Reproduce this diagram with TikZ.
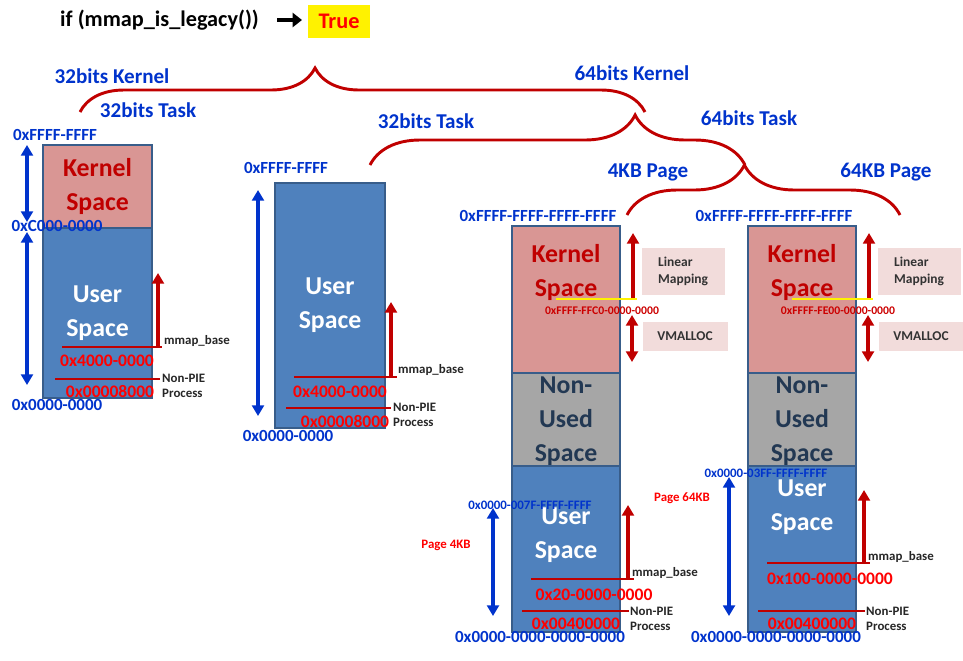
\documentclass[tikz,border=0pt]{standalone}
\usepackage{amsmath}
\usepackage{fontspec}
\setmainfont{Carlito}
\usetikzlibrary{decorations.pathreplacing,arrows.meta}
\definecolor{ublue}{HTML}{4F81BD}
\definecolor{ubord}{HTML}{385D8A}
\definecolor{kpink}{HTML}{D99694}
\definecolor{ngray}{HTML}{A6A6A6}
\definecolor{lpink}{HTML}{F2DCDB}
\definecolor{dred}{HTML}{C00000}
\definecolor{tblue}{HTML}{0033CC}
\tikzset{
kspace/.style = {draw=ubord, line width=1.5pt, fill=kpink, text=dred, align=center, font=\bfseries\fontsize{22}{29}\selectfont},
uspace/.style = {draw=ubord, line width=1.5pt, fill=ublue, text=white, align=center, font=\bfseries\fontsize{22}{29}\selectfont},
nspace/.style = {draw=ubord, line width=1.5pt, fill=ngray, text=ubord!60!black, align=center, font=\bfseries\fontsize{22}{29}\selectfont},
btext/.style = {align=center, font=\bfseries\fontsize{22}{29}\selectfont},
addr/.style = {text=tblue, font=\bfseries\fontsize{14.5}{17}\selectfont, inner sep=0pt},
saddr/.style = {text=tblue, font=\bfseries\fontsize{11}{13}\selectfont, inner sep=0pt},
raddr/.style = {text=red, font=\bfseries\fontsize{15}{17}\selectfont, inner sep=0pt},
kaddr/.style = {text=red!80!black, font=\bfseries\fontsize{10}{12}\selectfont, inner sep=0pt},
note/.style = {text=black!85, font=\bfseries\fontsize{11}{13}\selectfont, inner sep=0pt, align=left},
tag/.style = {fill=lpink, text=black!80, font=\bfseries\fontsize{11.5}{15}\selectfont, align=left},
head/.style = {text=tblue, font=\bfseries\fontsize{18}{21}\selectfont},
pg/.style = {text=red, font=\bfseries\fontsize{11}{13}\selectfont},
brc/.style = {draw=dred, line width=2.5pt, decorate},
barr/.style = {draw=tblue, line width=3pt, {Triangle[length=9pt,width=10pt]}-{Triangle[length=9pt,width=10pt]}},
rarr/.style = {draw=dred, line width=3pt, -{Triangle[length=9pt,width=10pt]}},
rdarr/.style = {draw=dred, line width=3pt, {Triangle[length=9pt,width=10pt]}-{Triangle[length=9pt,width=10pt]}},
rline/.style = {draw=dred, line width=2.5pt},
yline/.style = {draw=yellow, line width=2pt}
}
\begin{document}
\begin{tikzpicture}[x=0.03cm,y=-0.03cm]
\useasboundingbox (0,0) rectangle (963,660);
% title
\node[anchor=west, font=\bfseries\fontsize{19}{22}\selectfont, inner sep=0pt] (title) at (60,20) {if (mmap\_is\_legacy())};
\coordinate (ar1) at (277,20); \coordinate (ar2) at (302,20);
\draw[line width=3.5pt, -{Triangle[length=8pt,width=12pt]}] (ar1) -- (ar2);
\node[fill=yellow, text=red, font=\bfseries\fontsize{19}{22}\selectfont, minimum width=62*0.03cm, minimum height=33*0.03cm] (true) at (339,21) {True};
% braces
\draw[brc, decoration={brace, amplitude=44*0.03cm, aspect=0.416}] (80,112) -- (645,112);
\draw[brc, decoration={brace, amplitude=50*0.03cm, aspect=0.707}] (370,165) -- (745,165);
\draw[brc, decoration={brace, amplitude=50*0.03cm, aspect=0.43}] (627,215) -- (900,215);
\node[head] (k32) at (112,76) {32bits Kernel};
\node[head] (k64) at (632,73) {64bits Kernel};
\node[head] (t32a) at (148,110) {32bits Task};
\node[head] (t32b) at (426,121) {32bits Task};
\node[head] (t64) at (749,118) {64bits Task};
\node[head] (p4k) at (648,172) {4KB Page};
\node[head] (p64k) at (886,172) {64KB Page};

% box A : 32bits kernel, 32bits task
\node[kspace, minimum width=109*0.03cm, minimum height=83*0.03cm] (kA) at (97.5,186.5) {Kernel\\Space};
\node[uspace, minimum width=109*0.03cm, minimum height=170*0.03cm] (uA) at (97.5,313) {User\\Space};
\node[addr] (aA1) at (55,135) {0xFFFF-FFFF};
\node[addr] (aA2) at (57,226) {0xC000-0000};
\node[addr] (aA3) at (57,405) {0x0000-0000};
\coordinate (bA1) at (27,145); \coordinate (bA2) at (27,222);
\coordinate (bA3) at (27,232); \coordinate (bA4) at (27,385);
\draw[barr] (bA1) -- (bA2);
\draw[barr] (bA3) -- (bA4);
\coordinate (mA1) at (62,347); \coordinate (mA2) at (162,347);
\draw[rline] (mA1) -- (mA2);
\coordinate (mA3) at (158,347); \coordinate (mA4) at (158,273);
\draw[rarr] (mA3) -- (mA4);
\coordinate (nA1) at (55,379); \coordinate (nA2) at (160,379);
\draw[rline] (nA1) -- (nA2);
\node[raddr] (rA1) at (107,361) {0x4000-0000};
\node[raddr] (rA2) at (110,391) {0x00008000};
\node[note, anchor=west] (mmA) at (164,341) {mmap\_base};
\node[note, anchor=west] (npA) at (162,386) {Non-PIE\\Process};

% box B : 64bits kernel, 32bits task
\node[uspace, minimum width=110*0.03cm, minimum height=245*0.03cm] (uB) at (330,305.5) {User\\Space};
\node[addr] (aB1) at (286,168) {0xFFFF-FFFF};
\node[addr] (aB2) at (288,436) {0x0000-0000};
\coordinate (bB1) at (258,190); \coordinate (bB2) at (258,416);
\draw[barr] (bB1) -- (bB2);
\coordinate (mB1) at (294,377); \coordinate (mB2) at (397,377);
\draw[rline] (mB1) -- (mB2);
\coordinate (mB3) at (391,377); \coordinate (mB4) at (391,302);
\draw[rarr] (mB3) -- (mB4);
\coordinate (nB1) at (286,408); \coordinate (nB2) at (391,408);
\draw[rline] (nB1) -- (nB2);
\node[raddr] (rB1) at (340,392) {0x4000-0000};
\node[raddr] (rB2) at (345,421) {0x00008000};
\node[note, anchor=west] (mmB) at (398,370) {mmap\_base};
\node[note, anchor=west] (npB) at (393,415) {Non-PIE\\Process};

% boxes C and D : 64bits kernel, 64bits task
\foreach \n/\x/\ka/\ua/\mm/\mt/\ra/\pg/\py in
  {C/566/FFC0/007F/579/505/0x20-0000-0000/Page 4KB/545,
   D/802/FE00/03FF/563/490/0x100-0000-0000/Page 64KB/498}{
  \node[kspace, minimum width=108*0.03cm, minimum height=150*0.03cm] (k\n) at (\x,301) {};
  \node[btext, text=dred] (kt\n) at (\x,272) {Kernel\\Space};
  \node[nspace, minimum width=108*0.03cm, minimum height=90*0.03cm] (n\n) at (\x,421) {Non-\\Used\\Space};
  \node[uspace, minimum width=108*0.03cm, minimum height=166*0.03cm] (u\n) at (\x,549) {};
  \node[btext, text=white] (ut\n) at (\x,{\py<500 ? 507 : 535}) {User\\Space};
  \node[addr] (top\n) at (\x-28,216) {0xFFFF-FFFF-FFFF-FFFF};
  \node[addr] (bot\n) at (\x-26,637) {0x0000-0000-0000-0000};
  \node[kaddr] (kad\n) at (\x+36,311) {0xFFFF-\ka-0000-0000};
  \draw[yline] (\x-10,299) -- (\x+71,299);
  \draw[rarr] (\x+67,298) -- (\x+67,233);
  \draw[rdarr] (\x+66,315) -- (\x+66,362);
  \node[tag, minimum width=83*0.03cm, minimum height=47*0.03cm] (lm\n) at (\x+117,271.5) {Linear\\Mapping};
  \node[tag, minimum width=85*0.03cm, minimum height=29*0.03cm] (vm\n) at (\x+119,336.5) {VMALLOC};
  \node[saddr] (ua\n) at (\x-36,{\py<500 ? 473 : 505}) {0x0000-\ua-FFFF-FFFF};
  \node[pg] (pg\n) at (\x-120,\py) {\pg};
  \draw[barr] (\x-73,{\py<500 ? 477 : 508}) -- (\x-73,616);
  \draw[rline] (\x-35,\mm) -- (\x+68,\mm);
  \draw[rarr] (\x+62,\mm) -- (\x+62,\mt);
  \draw[rline] (\x-44,611) -- (\x+63,611);
  \node[raddr] (ra\n) at (\x+28,\mm+16) {\ra};
  \node[raddr] (rb\n) at (\x+10,624) {0x00400000};
  \node[note, anchor=west] (mm\n) at (\x+66,\mm-6) {mmap\_base};
  \node[note, anchor=west] (np\n) at (\x+64,619) {Non-PIE\\Process};
}
\end{tikzpicture}
\end{document}
